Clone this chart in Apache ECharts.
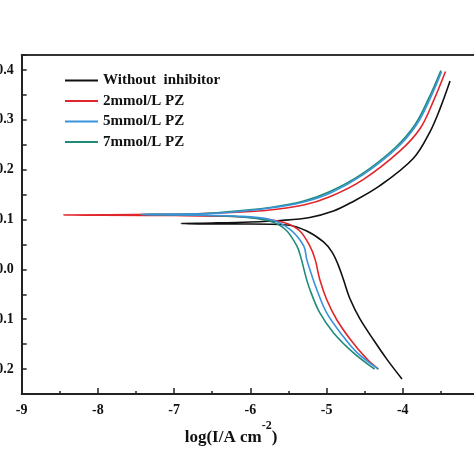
<!DOCTYPE html>
<html>
<head>
<meta charset="utf-8">
<script src="https://cdn.jsdelivr.net/npm/echarts@6.0.0/dist/echarts.min.js"></script>
<style>
  html, body { margin: 0; padding: 0; background: #fff; }
  #chart { width: 474px; height: 474px; }
</style>
</head>
<body>
<div id="chart"></div>
<script>
// log(I) / E pairs, cathodic branch from its lower end to Ecorr,
// anodic branch from Ecorr up to its upper end
var blankCathodic = [[-4.01,-0.22],[-4.21,-0.18],[-4.39,-0.14],[-4.56,-0.10],[-4.69,-0.06],[-4.78,-0.02],[-4.85,0.01],[-4.93,0.035],[-5.04,0.055],[-5.26,0.077],[-5.52,0.089],[-6.0,0.091],[-6.5,0.091],[-6.91,0.092]];
var blankAnodic = [[-6.5,0.093],[-6.0,0.095],[-5.61,0.098],[-5.22,0.104],[-4.91,0.117],[-4.69,0.133],[-4.30,0.168],[-3.86,0.223],[-3.64,0.277],[-3.51,0.323],[-3.38,0.378]];

var pz2Cathodic = [[-4.32,-0.20],[-4.47,-0.18],[-4.69,-0.14],[-4.87,-0.10],[-5.0,-0.06],[-5.09,-0.02],[-5.15,0.02],[-5.22,0.047],[-5.35,0.077],[-5.52,0.092],[-5.8,0.101],[-6.2,0.106],[-7.0,0.108],[-8.45,0.109]];
var pz2Anodic = [[-7.5,0.110],[-6.8,0.111],[-6.4,0.113],[-5.8,0.118],[-5.3,0.129],[-4.95,0.146],[-4.52,0.18],[-4.04,0.237],[-3.77,0.283],[-3.60,0.337],[-3.44,0.397]];

var pz5Cathodic = [[-4.32,-0.20],[-4.60,-0.167],[-4.82,-0.127],[-5.0,-0.087],[-5.13,-0.04],[-5.22,0.0],[-5.26,0.02],[-5.30,0.047],[-5.48,0.08],[-5.74,0.10],[-6.2,0.107],[-6.8,0.109],[-7.43,0.11]];
var pz5Anodic = [[-6.8,0.111],[-6.4,0.113],[-5.74,0.123],[-5.3,0.135],[-4.95,0.153],[-4.52,0.19],[-4.08,0.243],[-3.82,0.29],[-3.64,0.343],[-3.49,0.397]];

var pz7Cathodic = [[-4.37,-0.20],[-4.65,-0.167],[-4.91,-0.127],[-5.09,-0.087],[-5.22,-0.04],[-5.28,-0.01],[-5.33,0.02],[-5.39,0.047],[-5.54,0.08],[-5.75,0.097],[-6.2,0.106],[-6.8,0.109],[-7.43,0.11]];
var pz7Anodic = [[-6.8,0.111],[-6.4,0.114],[-5.74,0.124],[-5.3,0.137],[-4.97,0.155],[-4.55,0.19],[-4.10,0.244],[-3.84,0.29],[-3.66,0.343],[-3.50,0.399]];

var seriesNames = ['Without  inhibitor', '2mmol/L PZ', '5mmol/L PZ', '7mmol/L PZ'];
var seriesColors = ['#111111', '#e0262b', '#3b93dc', '#1e8b78'];

var font = 'Liberation Serif, Times New Roman, serif';

var chart = echarts.init(document.getElementById('chart'));

function curve(i, cathodic, anodic, z) {
    return {
        name: seriesNames[i],
        type: 'line',
        data: cathodic.concat(anodic),
        showSymbol: false,
        smooth: 0.35,
        z: z,
        lineStyle: { color: seriesColors[i], width: 1.6 },
        itemStyle: { color: seriesColors[i] }
    };
}

var option = {
    backgroundColor: '#fff',
    animation: false,
    grid: {
        left: 21.7,
        top: 55,
        bottom: 80,
        right: -5,
        containLabel: false,
        outerBoundsMode: 'none'
    },
    legend: {
        data: seriesNames,
        orient: 'vertical',
        left: 60,
        top: 68,
        icon: 'rect',
        itemWidth: 33,
        itemHeight: 2,
        itemGap: 5.5,
        textStyle: {
            fontFamily: font,
            fontWeight: 'bold',
            fontSize: 15,
            color: '#111',
            lineHeight: 15
        }
    },
    xAxis: [{
        type: 'value',
        min: -9,
        max: -3,
        interval: 1,
        axisLine: { show: true, onZero: false, lineStyle: { color: '#222', width: 2 } },
        axisTick: { show: true, inside: true, length: 6, lineStyle: { color: '#222', width: 1.5 } },
        minorTick: { show: true, splitNumber: 2, length: 3, lineStyle: { color: '#222', width: 1.5 } },
        splitLine: { show: false },
        axisLabel: {
            margin: 9,
            showMaxLabel: false,
            fontFamily: font,
            fontWeight: 'bold',
            fontSize: 14,
            color: '#111'
        }
    }, {
        type: 'value',
        position: 'top',
        min: -9,
        max: -3,
        axisLine: { show: true, onZero: false, lineStyle: { color: '#333', width: 2 } },
        axisTick: { show: false },
        axisLabel: { show: false },
        splitLine: { show: false }
    }],
    yAxis: {
        type: 'value',
        min: -0.25,
        max: 0.43,
        interval: 0.05,
        axisLine: { show: true, onZero: false, lineStyle: { color: '#222', width: 2 } },
        axisTick: { show: true, inside: true, length: 5, lineStyle: { color: '#222', width: 1.5 } },
        splitLine: { show: false },
        axisLabel: {
            margin: 8,
            fontFamily: font,
            fontWeight: 'bold',
            fontSize: 14,
            color: '#111',
            formatter: function (v) {
                var t = v * 10;
                if (Math.abs(t - Math.round(t)) > 1e-6) return '';
                return v.toFixed(1);
            }
        }
    },
    graphic: [{
        type: 'text',
        x: 231,
        y: 433,
        style: {
            text: '{a|log(I/A cm}{s|-2}{a|)}',
            align: 'center',
            verticalAlign: 'middle',
            fill: '#111',
            rich: {
                a: { fontFamily: font, fontWeight: 'bold', fontSize: 17, lineHeight: 26, verticalAlign: 'bottom', fill: '#111' },
                s: { fontFamily: font, fontWeight: 'bold', fontSize: 12, lineHeight: 26, verticalAlign: 'top', fill: '#111' }
            }
        }
    }],
    series: [
        curve(0, blankCathodic, blankAnodic, 2),
        curve(1, pz2Cathodic, pz2Anodic, 3),
        curve(2, pz5Cathodic, pz5Anodic, 5),
        curve(3, pz7Cathodic, pz7Anodic, 4)
    ]
};

chart.setOption(option);
</script>
</body>
</html>
